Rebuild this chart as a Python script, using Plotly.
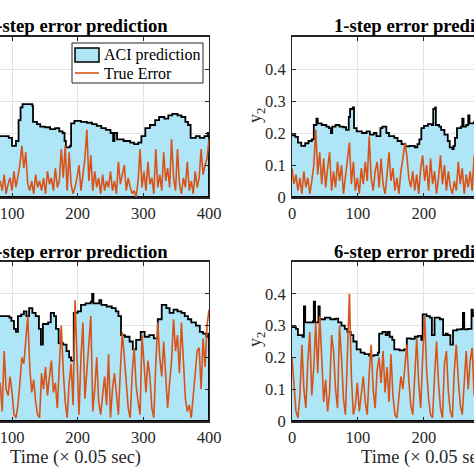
import plotly.graph_objects as go

# ---------------- data ----------------
# Top-left (1-step, y1 visible part) : ACI prediction step breakpoints
tl_aci_x = [80, 95, 100, 106, 110, 113, 116, 131, 132, 138, 143, 150, 158, 166, 172, 177, 180, 182, 188, 190,
            195, 205, 214, 222, 229, 236, 243, 250, 254, 256, 260, 270, 280, 286, 292, 297, 303, 310, 318, 324,
            332, 338, 344, 352, 358, 364, 368, 372, 380, 386, 393, 398, 400]
tl_aci_y = [0.19, 0.185, 0.16, 0.175, 0.24, 0.28, 0.29, 0.285, 0.235, 0.228, 0.22, 0.218, 0.212, 0.215, 0.205, 0.2,
            0.175, 0.155, 0.16, 0.23, 0.238, 0.235, 0.232, 0.228, 0.222, 0.215, 0.21, 0.2, 0.175, 0.2, 0.18, 0.175,
            0.17, 0.165, 0.17, 0.19, 0.215, 0.225, 0.24, 0.25, 0.245, 0.255, 0.26, 0.255, 0.25, 0.235, 0.225, 0.185,
            0.19, 0.185, 0.19, 0.2, 0.2]
tl_err_t0, tl_err_dt = 82, 3
tl_err = [0.05, 0.02, 0.07, 0.01, 0.04, 0.06, 0.02, 0.08, 0.03, 0.06, 0.10, 0.16, 0.09, 0.14, 0.04, 0.02, 0.05,
          0.01, 0.07, 0.03, 0.05, 0.02, 0.06, 0.01, 0.08, 0.04, 0.06, 0.02, 0.09, 0.03, 0.05, 0.15, 0.06, 0.16,
          0.02, 0.14, 0.04, 0.01, 0.03, 0.06, 0.10, 0.02, 0.07, 0.12, 0.21, 0.05, 0.13, 0.02, 0.08, 0.03, 0.06,
          0.01, 0.07, 0.02, 0.05, 0.03, 0.08, 0.02, 0.05, 0.01, 0.11, 0.04, 0.07, 0.10, 0.02, 0.06, 0.03, 0.01,
          0.02, 0.00, 0.05, 0.15, 0.03, 0.08, 0.02, 0.11, 0.04, 0.06, 0.01, 0.15, 0.03, 0.07, 0.02, 0.14, 0.05,
          0.09, 0.03, 0.18, 0.06, 0.02, 0.15, 0.04, 0.01, 0.06, 0.03, 0.11, 0.02, 0.05, 0.01, 0.08, 0.03, 0.06,
          0.15, 0.07, 0.10, 0.12, 0.18]

# Top-right (1-step, y2)
tr_aci_x = [0, 5, 9, 14, 20, 25, 30, 33, 37, 39, 45, 52, 56, 59, 61, 66, 72, 78, 82, 86, 88, 92, 94, 98, 106,
            113, 118, 124, 128, 134, 137, 143, 147, 155, 160, 166, 172, 178, 186, 190, 193, 196, 200, 206, 212,
            214, 217, 218, 223, 226, 231, 236, 239, 243, 245, 247, 250, 256, 258, 260, 264, 267, 269, 276, 280]
tr_aci_y = [0.193, 0.188, 0.17, 0.16, 0.168, 0.175, 0.18, 0.225, 0.245, 0.23, 0.225, 0.22, 0.215, 0.2, 0.22,
            0.225, 0.22, 0.218, 0.21, 0.25, 0.275, 0.28, 0.215, 0.205, 0.2, 0.205, 0.195, 0.2, 0.19, 0.215, 0.22,
            0.2, 0.19, 0.185, 0.175, 0.165, 0.158, 0.16, 0.155, 0.165, 0.18, 0.215, 0.222, 0.228, 0.225, 0.275,
            0.28, 0.225, 0.22, 0.21, 0.195, 0.175, 0.155, 0.15, 0.16, 0.185, 0.215, 0.22, 0.245, 0.22, 0.225,
            0.255, 0.23, 0.235, 0.23]
tr_err_t0, tr_err_dt = 0, 3
tr_err = [0.09, 0.04, 0.07, 0.02, 0.06, 0.01, 0.08, 0.03, 0.06, 0.01, 0.05, 0.10, 0.21, 0.07, 0.14, 0.04, 0.12,
          0.03, 0.09, 0.14, 0.02, 0.08, 0.03, 0.11, 0.05, 0.10, 0.01, 0.07, 0.12, 0.17, 0.04, 0.11, 0.02, 0.06,
          0.01, 0.09, 0.04, 0.11, 0.05, 0.19, 0.06, 0.02, 0.08, 0.11, 0.03, 0.12, 0.04, 0.01, 0.07, 0.14, 0.05,
          0.09, 0.02, 0.06, 0.01, 0.08, 0.12, 0.17, 0.13, 0.06, 0.03, 0.08, 0.02, 0.07, 0.01, 0.09, 0.13, 0.05,
          0.10, 0.02, 0.12, 0.04, 0.08, 0.01, 0.06, 0.13, 0.04, 0.10, 0.02, 0.08, 0.03, 0.01, 0.05, 0.02, 0.11,
          0.04, 0.09, 0.01, 0.07, 0.03, 0.08, 0.02, 0.13, 0.06]

# Bottom-left (6-step, y1 visible part)
bl_aci_x = [80, 96, 99, 103, 106, 109, 114, 118, 122, 126, 131, 136, 141, 144, 147, 155, 159, 164, 167, 171,
            178, 183, 187, 190, 194, 200, 205, 212, 220, 222, 224, 230, 233, 236, 244, 252, 258, 262, 266, 272,
            279, 284, 289, 296, 302, 309, 316, 322, 328, 335, 340, 346, 352, 358, 363, 368, 373, 380, 386, 391,
            396, 399, 400]
bl_aci_y = [0.33, 0.325, 0.315, 0.29, 0.28, 0.33, 0.335, 0.345, 0.33, 0.355, 0.34, 0.33, 0.29, 0.24, 0.305,
            0.31, 0.34, 0.33, 0.29, 0.245, 0.24, 0.22, 0.2, 0.19, 0.34, 0.345, 0.365, 0.37, 0.375, 0.4, 0.37,
            0.37, 0.38, 0.365, 0.36, 0.355, 0.345, 0.33, 0.27, 0.265, 0.25, 0.225, 0.255, 0.28, 0.265, 0.27,
            0.26, 0.32, 0.365, 0.355, 0.34, 0.35, 0.345, 0.34, 0.33, 0.32, 0.31, 0.3, 0.28, 0.275, 0.265, 0.275,
            0.275]
bl_err_t0, bl_err_dt = 82, 3
bl_err = [0.12, 0.03, 0.22, 0.10, 0.08, 0.14, 0.09, 0.02, 0.01, 0.05, 0.12, 0.20, 0.18, 0.26, 0.33, 0.17, 0.09,
          0.13, 0.06, 0.02, 0.01, 0.15, 0.10, 0.17, 0.08, 0.14, 0.19, 0.09, 0.12, 0.04, 0.15, 0.30, 0.16, 0.06,
          0.01, 0.12, 0.18, 0.05, 0.38, 0.22, 0.02, 0.20, 0.31, 0.07, 0.15, 0.24, 0.33, 0.03, 0.10, 0.20, 0.06,
          0.02, 0.09, 0.14, 0.05, 0.21, 0.01, 0.10, 0.15, 0.08, 0.02, 0.16, 0.28, 0.20, 0.12, 0.04, 0.01, 0.15,
          0.23, 0.11, 0.06, 0.02, 0.27, 0.18, 0.09, 0.19, 0.14, 0.04, 0.01, 0.18, 0.31, 0.20, 0.14, 0.25, 0.16,
          0.04, 0.12, 0.19, 0.32, 0.22, 0.27, 0.15, 0.31, 0.18, 0.07, 0.03, 0.05, 0.01, 0.09, 0.16, 0.22, 0.23,
          0.10, 0.26, 0.17, 0.30, 0.35]

# Bottom-right (6-step, y2)
br_aci_x = [0, 6, 9, 16, 18, 20, 32, 33, 35, 40, 42, 50, 58, 66, 70, 75, 80, 84, 89, 93, 98, 104, 110, 117, 124,
            130, 132, 137, 142, 145, 148, 152, 155, 163, 170, 174, 180, 186, 191, 196, 198, 204, 209, 212, 216,
            224, 229, 233, 236, 240, 244, 250, 257, 259, 261, 266, 272, 274, 277, 280]
br_aci_y = [0.295, 0.29, 0.27, 0.265, 0.36, 0.31, 0.315, 0.375, 0.31, 0.36, 0.32, 0.325, 0.32, 0.322, 0.31, 0.3,
            0.29, 0.28, 0.27, 0.25, 0.225, 0.215, 0.21, 0.205, 0.207, 0.215, 0.275, 0.28, 0.27, 0.28, 0.265, 0.255,
            0.225, 0.222, 0.225, 0.26, 0.258, 0.265, 0.268, 0.255, 0.335, 0.33, 0.325, 0.27, 0.325, 0.32, 0.27,
            0.275, 0.27, 0.24, 0.285, 0.288, 0.29, 0.34, 0.288, 0.29, 0.35, 0.33, 0.34, 0.34]
br_err_t0, br_err_dt = 0, 3
br_err = [0.20, 0.12, 0.03, 0.01, 0.08, 0.24, 0.10, 0.04, 0.19, 0.28, 0.08, 0.17, 0.31, 0.15, 0.33, 0.20, 0.06,
          0.13, 0.03, 0.09, 0.27, 0.22, 0.10, 0.04, 0.30, 0.20, 0.07, 0.02, 0.18, 0.40, 0.14, 0.02, 0.05, 0.12,
          0.03, 0.09, 0.14, 0.06, 0.02, 0.15, 0.24, 0.10, 0.04, 0.16, 0.20, 0.12, 0.22, 0.09, 0.17, 0.06, 0.21,
          0.08, 0.02, 0.01, 0.07, 0.14, 0.10, 0.18, 0.24, 0.13, 0.05, 0.02, 0.15, 0.26, 0.12, 0.04, 0.20, 0.33,
          0.16, 0.07, 0.02, 0.01, 0.14, 0.25, 0.12, 0.04, 0.01, 0.18, 0.22, 0.09, 0.03, 0.01, 0.16, 0.24, 0.13,
          0.05, 0.02, 0.14, 0.22, 0.10, 0.19, 0.23, 0.08, 0.12]

titles = ["1-step error prediction", "1-step error prediction",
          "6-step error prediction", "6-step error prediction"]
xtick_vals = [0, 100, 200, 300, 400]
ytick_vals = [0, 0.1, 0.2, 0.3, 0.4]
ytick_text = ["0", "0.1", "0.2", "0.3", "0.4"]
x_label = "Time (× 0.05 sec)"
y_label = "y<sub>2</sub>"
legend_names = ["ACI prediction", "True Error"]

# ---------------- styling ----------------
W = H = 474
FONT = "Liberation Serif"
FILL = "#AEE6F7"
ORANGE = "#D95319"
AXC = "#262626"
GRID = "#E3E3E3"


def px_x(v):
    return v / W


def px_y(v):
    return 1 - v / H


panels = [
    dict(ax="", aci=(tl_aci_x, tl_aci_y), err=(tl_err_t0, tl_err_dt, tl_err), xr=[81.7, 400],
         xdom=[0, 209 / W], ydom=[1 - 197 / H, 1 - 37 / H], left=True),
    dict(ax="2", aci=(tr_aci_x, tr_aci_y), err=(tr_err_t0, tr_err_dt, tr_err), xr=[0, 275.8],
         xdom=[292 / W, 1], ydom=[1 - 197 / H, 1 - 37 / H], left=False),
    dict(ax="3", aci=(bl_aci_x, bl_aci_y), err=(bl_err_t0, bl_err_dt, bl_err), xr=[81.7, 400],
         xdom=[0, 209 / W], ydom=[1 - 421 / H, 1 - 262 / H], left=True),
    dict(ax="4", aci=(br_aci_x, br_aci_y), err=(br_err_t0, br_err_dt, br_err), xr=[0, 275.8],
         xdom=[292 / W, 1], ydom=[1 - 421 / H, 1 - 262 / H], left=False),
]

fig = go.Figure()
layout = dict(width=W, height=H, margin=dict(l=0, r=0, t=0, b=0),
              paper_bgcolor="white", plot_bgcolor="white",
              font=dict(family=FONT, size=16, color=AXC),
              showlegend=False)

for p in panels:
    a = p["ax"]
    ax_x, ax_y = "x" + a, "y" + a
    xs, ys = p["aci"]
    poly_x = list(xs) + [xs[-1], xs[0]]
    poly_y = list(ys) + [0, 0]
    fig.add_trace(go.Scatter(x=poly_x, y=poly_y, mode="lines", line=dict(color="black", width=1.8, shape="hv"),
                             fill="toself", fillcolor=FILL, name=legend_names[0],
                             xaxis=ax_x, yaxis=ax_y, hoverinfo="skip"))
    t0, dt, ev = p["err"]
    ex = [t0 + dt * i for i in range(len(ev))]
    fig.add_trace(go.Scatter(x=ex, y=ev, mode="lines", line=dict(color=ORANGE, width=1.6),
                             name=legend_names[1], xaxis=ax_x, yaxis=ax_y, hoverinfo="skip"))
    layout["xaxis" + a] = dict(domain=p["xdom"], range=p["xr"], anchor=ax_y,
                               tickmode="array", tickvals=xtick_vals,
                               showgrid=True, gridcolor=GRID, gridwidth=1,
                               showline=True, linecolor=AXC, linewidth=1.5, mirror="ticks",
                               ticks="inside", ticklen=4, tickcolor=AXC,
                               tickfont=dict(family=FONT, size=16.5, color=AXC),
                               ticklabeloverflow="allow",
                               ticklabelstandoff=0, zeroline=False, automargin=False)
    layout["yaxis" + a] = dict(domain=p["ydom"], range=[0, 0.5], anchor=ax_x,
                               tickmode="array", tickvals=ytick_vals, ticktext=ytick_text,
                               showgrid=True, gridcolor=GRID, gridwidth=1,
                               showline=True, linecolor=AXC, linewidth=1,
                               side="right" if p["left"] else "left",
                               mirror=False,
                               showticklabels=not p["left"],
                               ticks="inside", ticklen=4, tickcolor=AXC,
                               tickfont=dict(family=FONT, size=16.5, color=AXC),
                               ticklabeloverflow="allow",
                               ticklabelstandoff=2, zeroline=False, automargin=False)

# ---- legend box (top-left panel), drawn in paper coordinates ----
shapes = [
    dict(type="rect", xref="paper", yref="paper", x0=px_x(72), x1=px_x(203), y0=px_y(83), y1=px_y(43),
         fillcolor="white", line=dict(color=AXC, width=1), layer="above"),
    dict(type="rect", xref="paper", yref="paper", x0=px_x(75), x1=px_x(99), y0=px_y(62), y1=px_y(48),
         fillcolor=FILL, line=dict(color="black", width=1.5), layer="above"),
    dict(type="line", xref="paper", yref="paper", x0=px_x(75), x1=px_x(99), y0=px_y(73), y1=px_y(73),
         line=dict(color=ORANGE, width=1.6), layer="above"),
]
layout["shapes"] = shapes

ann = []
for name, py in zip(legend_names, (55, 73)):
    ann.append(dict(text=name, x=px_x(102), y=px_y(py), xref="paper", yref="paper",
                    xanchor="left", yanchor="middle", showarrow=False,
                    font=dict(family=FONT, size=16, color="#000000")))
title_pos = [(77, 25), (424, 25), (77, 251), (424, 251)]
for t, (px, py) in zip(titles, title_pos):
    ann.append(dict(text="<b>" + t + "</b>", x=px_x(px), y=px_y(py), xref="paper", yref="paper",
                    xanchor="center", yanchor="middle", showarrow=False,
                    font=dict(family=FONT, size=18.7, color="#000000")))
for py in (115, 339):
    ann.append(dict(text=y_label, x=px_x(256), y=px_y(py), xref="paper", yref="paper",
                    xanchor="center", yanchor="middle", showarrow=False, textangle=-90,
                    font=dict(family=FONT, size=18, color=AXC)))
for px in (75, 426):
    ann.append(dict(text=x_label, x=px_x(px), y=px_y(457), xref="paper", yref="paper",
                    xanchor="center", yanchor="middle", showarrow=False,
                    font=dict(family=FONT, size=18.5, color=AXC)))
layout["annotations"] = ann

fig.update_layout(**layout)
fig.write_html("out.html")
